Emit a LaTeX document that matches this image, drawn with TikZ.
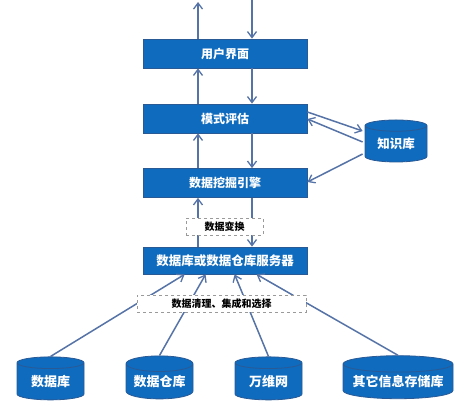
\documentclass[tikz,border=0pt]{standalone}
\usepackage{fontspec}
\setmainfont{Noto Sans CJK SC}
\usetikzlibrary{arrows.meta,shapes.geometric,calc}
\definecolor{boxblue}{HTML}{0F6BBE}
\definecolor{boxedge}{HTML}{2A5A96}
\definecolor{arrowc}{HTML}{5573A6}
\definecolor{dashc}{HTML}{9A9A9A}
\tikzset{
  bluebox/.style={draw=boxedge, line width=0.8pt, fill=boxblue, text=white, font=\bfseries\fontsize{12}{14}\selectfont, minimum width=164pt, minimum height=29pt, inner sep=0pt},
  dashbox/.style={draw=dashc, dashed, line width=0.8pt, fill=white, text=black, font=\bfseries\fontsize{10}{12}\selectfont, minimum height=17pt, inner sep=0pt},
  dbcyl/.style={cylinder, shape border rotate=90, aspect=0.3, draw=boxedge, line width=0.8pt, fill=boxblue, text=white, font=\bfseries\fontsize{13}{15}\selectfont, inner sep=0pt},
  conn/.style={draw=arrowc, line width=1.5pt},
  arr/.style={conn, -{Straight Barb[length=6pt,width=9pt,line width=1.3pt]}},
}
\begin{document}
\begin{tikzpicture}[x=1pt,y=-1pt]
\useasboundingbox (0,0) rectangle (474,409);
% top coordinates
\coordinate (topL) at (198,2);
\coordinate (topR) at (252,0);
% boxes
\node[bluebox] (ui) at (225,53.5) {用户界面};
\node[bluebox] (mode) at (225,118.5) {模式评估};
\node[bluebox] (eng) at (225,183) {数据挖掘引擎};
\node[bluebox, minimum height=27pt, font=\bfseries\fontsize{12.5}{14}\selectfont] (srv) at (225,260.5) {数据库或数据仓库服务器};
% knowledge base
\node[dbcyl, minimum width=62pt, minimum height=42pt, font=\bfseries\fontsize{12.5}{14}\selectfont] (kb) at (396,144) {知识库};
% bottom cylinders
\node[dbcyl, minimum width=67pt, minimum height=43pt] (db1) at (50.5,381.5) {数据库};
\node[dbcyl, minimum width=67pt, minimum height=43pt] (db2) at (159.5,381.5) {数据仓库};
\node[dbcyl, minimum width=67pt, minimum height=43pt] (db3) at (268.5,381.5) {万维网};
\node[dbcyl, aspect=0.18, minimum width=110pt, minimum height=43pt] (db4) at (398,381.5) {其它信息存储库};
% vertical arrows
\draw[arr] ($(ui.north)+(-27,0)$) -- (topL);
\draw[arr] (topR) -- ($(ui.north)+(27,0)$);
\draw[arr] ($(mode.north)+(-27,0)$) -- ($(ui.south)+(-27,0)$);
\draw[arr] ($(ui.south)+(27,0)$) -- ($(mode.north)+(27,0)$);
\draw[arr] ($(eng.north)+(-27,0)$) -- ($(mode.south)+(-27,0)$);
\draw[arr] ($(mode.south)+(27,0)$) -- ($(eng.north)+(27,0)$);
\draw[arr] ($(srv.north)+(-27,0)$) -- ($(eng.south)+(-27,0)$);
\draw[arr] ($(eng.south)+(27,0)$) -- ($(srv.north)+(27,0)$);
% knowledge base arrows
\draw[arr] ($(mode.east)+(0,-6.5)$) -- ($(kb.west)+(-2,-13)$);
\draw[arr] ($(kb.west)+(-2,-2)$) -- ($(mode.east)+(0,0.5)$);
\draw[arr] ($(kb.west)+(-2,10)$) -- ($(eng.east)+(0,-1)$);
% bottom arrows
\draw[arr] (db1.north) -- ($(srv.south west)+(42,0)$);
\draw[arr] (db2.north) -- ($(srv.south west)+(63,0)$);
\draw[arr] (db3.north) -- ($(srv.south west)+(92,0)$);
\draw[arr] (db4.north) -- ($(srv.south west)+(114,0)$);
% dashed boxes (over the lines)
\node[dashbox, minimum width=77pt] (tr) at (224.5,226.5) {数据变换};
\node[dashbox, minimum width=169pt] (cl) at (221.5,303.5) {数据清理、集成和选择};
\end{tikzpicture}
\end{document}
